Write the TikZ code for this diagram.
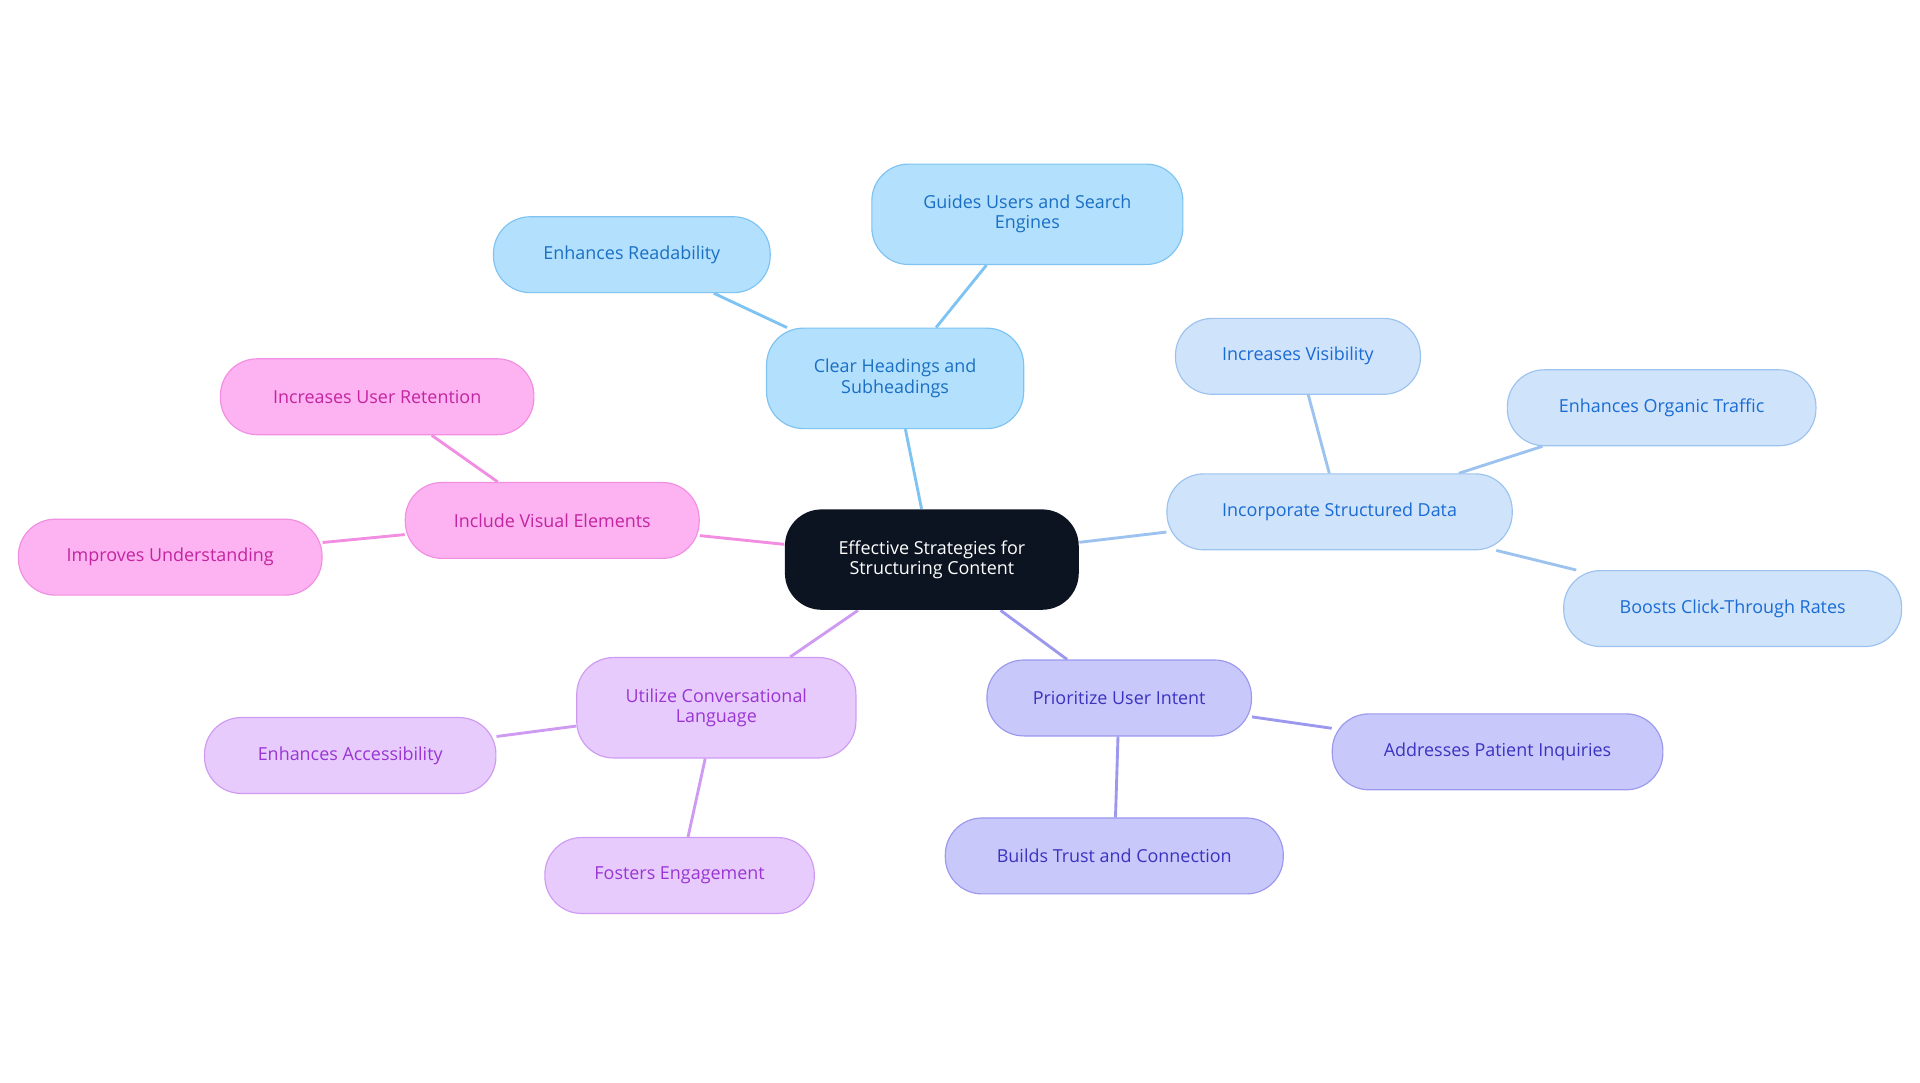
\documentclass[tikz,border=0pt]{standalone}
\usepackage{fontspec}
\setmainfont{Open Sans}
\usetikzlibrary{backgrounds}
\definecolor{cA}{HTML}{B3E0FD}\definecolor{bA}{HTML}{7EC3F2}\definecolor{tA}{HTML}{1A6FC4}
\definecolor{cB}{HTML}{CFE3FA}\definecolor{bB}{HTML}{9CC3EF}\definecolor{tB}{HTML}{1A6BD4}
\definecolor{cC}{HTML}{C9C8FA}\definecolor{bC}{HTML}{9B98EE}\definecolor{tC}{HTML}{3A33C0}
\definecolor{cD}{HTML}{E7CBFC}\definecolor{bD}{HTML}{CF9AF2}\definecolor{tD}{HTML}{9A35D4}
\definecolor{cE}{HTML}{FDB2F1}\definecolor{bE}{HTML}{F28EE1}\definecolor{tE}{HTML}{C2259F}
\definecolor{cM}{HTML}{0D1421}
\tikzset{
 box/.style={rounded corners=0.9cm, align=center, font=\fontsize{12.5}{14}\selectfont, inner sep=0pt, line width=0.8pt},
 gA/.style={box,fill=cA,draw=bA,text=tA},
 gB/.style={box,fill=cB,draw=bB,text=tB},
 gC/.style={box,fill=cC,draw=bC,text=tC},
 gD/.style={box,fill=cD,draw=bD,text=tD},
 gE/.style={box,fill=cE,draw=bE,text=tE},
 eA/.style={draw=bA,line width=2pt},
 eB/.style={draw=bB,line width=2pt},
 eC/.style={draw=bC,line width=2pt},
 eD/.style={draw=bD,line width=2pt},
 eE/.style={draw=bE,line width=2pt},
}
\newcommand{\bx}[6]{\node[#1,minimum width=#4*0.03cm,minimum height=#5*0.03cm] (#6) at (#2*0.03cm,-#3*0.03cm) {#6text};}
\begin{document}
\begin{tikzpicture}
\useasboundingbox (0,0) rectangle (1568*0.03cm,-884*0.03cm);
\def\N#1#2#3#4#5#6#7{\node[#1,minimum width=#4*0.03cm,minimum height=#5*0.03cm] (#6) at (#2*0.03cm,-#3*0.03cm) {#7};}
\N{box,fill=cM,text=white}{761}{457}{240}{82}{m}{Effective Strategies for\\Structuring Content}
\N{gA}{731}{309}{210}{82}{a}{Clear Headings and\\Subheadings}
\N{gA}{516}{208}{226}{62}{a1}{Enhances Readability}
\N{gA}{839}{175}{254}{82}{a2}{Guides Users and Search\\Engines}
\N{gB}{1094}{418}{282}{62}{b}{Incorporate Structured Data}
\N{gB}{1060}{291}{200}{62}{b1}{Increases Visibility}
\N{gB}{1357}{333}{252}{62}{b2}{Enhances Organic Traffic}
\N{gB}{1415}{497}{276}{62}{b3}{Boosts Click-Through Rates}
\N{gC}{914}{570}{216}{62}{c}{Prioritize User Intent}
\N{gC}{1223}{614}{270}{62}{c1}{Addresses Patient Inquiries}
\N{gC}{910}{699}{276}{62}{c2}{Builds Trust and Connection}
\N{gD}{585}{578}{228}{82}{d}{Utilize Conversational\\Language}
\N{gD}{286}{617}{238}{62}{d1}{Enhances Accessibility}
\N{gD}{555}{715}{220}{62}{d2}{Fosters Engagement}
\N{gE}{451}{425}{240}{62}{e}{Include Visual Elements}
\N{gE}{308}{324}{256}{62}{e1}{Increases User Retention}
\N{gE}{139}{455}{248}{62}{e2}{Improves Understanding}
\begin{scope}[on background layer]
\draw[eA] (m)--(a) (a)--(a1) (a)--(a2);
\draw[eB] (m)--(b) (b)--(b1) (b)--(b2) (b)--(b3);
\draw[eC] (m)--(c) (c)--(c1) (c)--(c2);
\draw[eD] (m)--(d) (d)--(d1) (d)--(d2);
\draw[eE] (m)--(e) (e)--(e1) (e)--(e2);
\end{scope}
\end{tikzpicture}
\end{document}
